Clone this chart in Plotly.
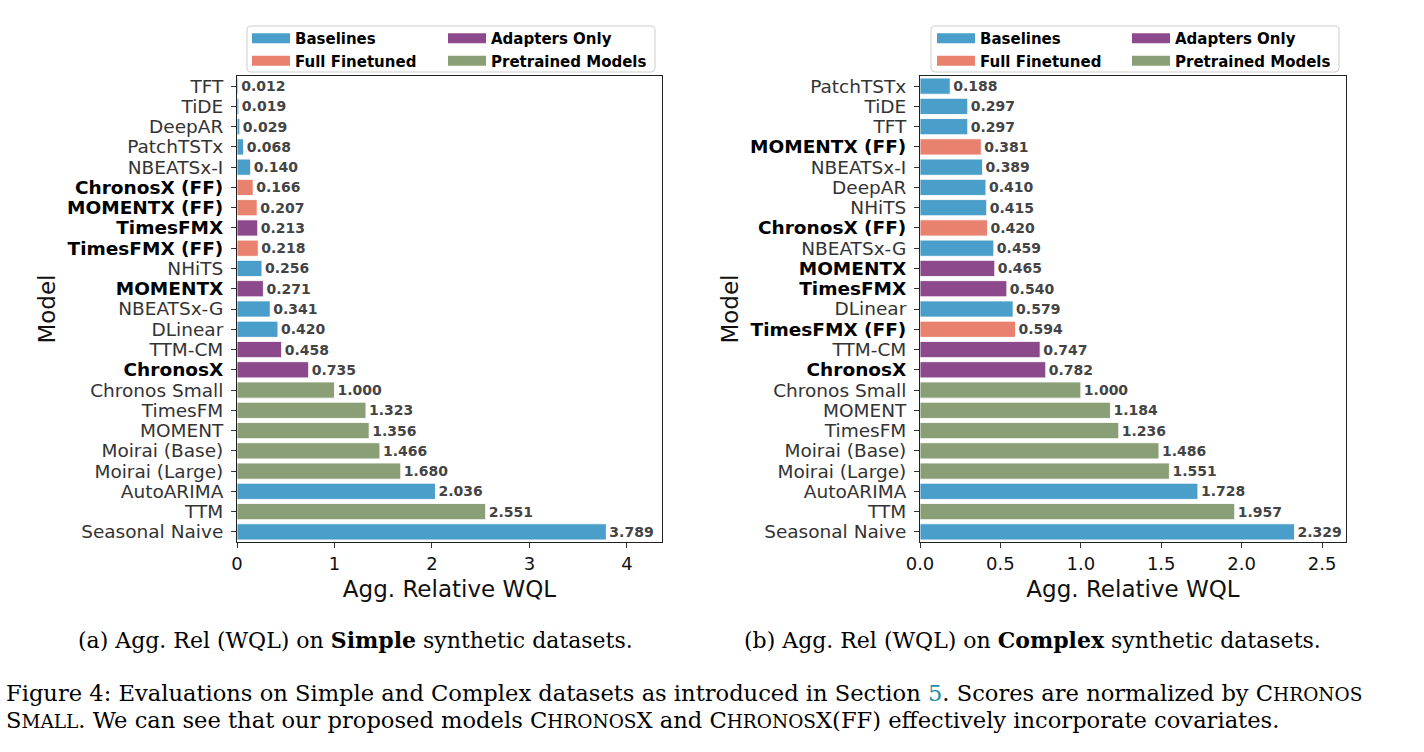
import plotly.graph_objects as go

W, H = 1424, 752

# ---------------- data ----------------
simple_models = ["TFT", "TiDE", "DeepAR", "PatchTSTx", "NBEATSx-I", "ChronosX (FF)",
                 "MOMENTX (FF)", "TimesFMX", "TimesFMX (FF)", "NHiTS", "MOMENTX",
                 "NBEATSx-G", "DLinear", "TTM-CM", "ChronosX", "Chronos Small",
                 "TimesFM", "MOMENT", "Moirai (Base)", "Moirai (Large)", "AutoARIMA",
                 "TTM", "Seasonal Naive"]
simple_values = [0.012, 0.019, 0.029, 0.068, 0.140, 0.166, 0.207, 0.213, 0.218, 0.256,
                 0.271, 0.341, 0.420, 0.458, 0.735, 1.000, 1.323, 1.356, 1.466, 1.680,
                 2.036, 2.551, 3.789]
simple_groups = ["B", "B", "B", "B", "B", "F", "F", "A", "F", "B", "A", "B", "B", "A", "A",
                 "P", "P", "P", "P", "P", "B", "P", "B"]

complex_models = ["PatchTSTx", "TiDE", "TFT", "MOMENTX (FF)", "NBEATSx-I", "DeepAR",
                  "NHiTS", "ChronosX (FF)", "NBEATSx-G", "MOMENTX", "TimesFMX", "DLinear",
                  "TimesFMX (FF)", "TTM-CM", "ChronosX", "Chronos Small", "MOMENT",
                  "TimesFM", "Moirai (Base)", "Moirai (Large)", "AutoARIMA", "TTM",
                  "Seasonal Naive"]
complex_values = [0.188, 0.297, 0.297, 0.381, 0.389, 0.410, 0.415, 0.420, 0.459, 0.465,
                  0.540, 0.579, 0.594, 0.747, 0.782, 1.000, 1.184, 1.236, 1.486, 1.551,
                  1.728, 1.957, 2.329]
complex_groups = ["B", "B", "B", "F", "B", "B", "B", "F", "B", "A", "A", "B", "F", "A", "A",
                  "P", "P", "P", "P", "P", "B", "P", "B"]

bold_models = ["ChronosX (FF)", "MOMENTX (FF)", "TimesFMX", "TimesFMX (FF)", "MOMENTX",
               "ChronosX"]

group_names = {"B": "Baselines", "F": "Full Finetuned", "A": "Adapters Only",
               "P": "Pretrained Models"}
group_colors = {"B": "#4a9fca", "F": "#e8826f", "A": "#8c4a8c", "P": "#8b9f76"}

x_ticks_simple = [0, 1, 2, 3, 4]
x_ticks_complex = [0.0, 0.5, 1.0, 1.5, 2.0, 2.5]

# ---------------- layout geometry (pixels) ----------------
panels = [
    dict(models=simple_models, values=simple_values, groups=simple_groups,
         xa="x", ya="y", x0=237, x1=662, xmax=4.36, ticks=x_ticks_simple, fmt="d",
         leg=("legend", "legend2"), box=(247, 655), cols=(247, 443)),
    dict(models=complex_models, values=complex_values, groups=complex_groups,
         xa="x2", ya="y2", x0=920, x1=1346, xmax=2.649, ticks=x_ticks_complex, fmt=".1f",
         leg=("legend3", "legend4"), box=(931, 1339), cols=(932, 1127)),
]
Y0, Y1 = 76, 542

fig = go.Figure()

def px(x):
    return x / W

def py(y):
    return 1 - y / H

for p in panels:
    # bars, one trace per group
    for g in ["B", "F", "A", "P"]:
        xs = [v for v, gg in zip(p["values"], p["groups"]) if gg == g]
        ys = [m for m, gg in zip(p["models"], p["groups"]) if gg == g]
        fig.add_trace(go.Bar(
            x=xs, y=ys, orientation="h", xaxis=p["xa"], yaxis=p["ya"],
            marker=dict(color=group_colors[g], line=dict(color="rgba(255,255,255,0.85)", width=1)),
            width=0.8, texttemplate="%{x:.3f}", textposition="outside",
            constraintext="none", cliponaxis=False,
            textfont=dict(family="DejaVu Sans", size=14, color="#444444", weight="bold"),
            showlegend=False, hoverinfo="x+y", name=group_names[g]))
    # legend entries (two columns)
    for g in ["B", "F", "A", "P"]:
        leg = p["leg"][0] if g in ("B", "F") else p["leg"][1]
        fig.add_trace(go.Scatter(
            x=[None], y=[None], mode="lines", xaxis=p["xa"], yaxis=p["ya"],
            line=dict(color=group_colors[g], width=10),
            name=group_names[g], legend=leg, showlegend=True))

ax_common = dict(showline=True, mirror=True, linecolor="#222222", linewidth=1,
                 ticks="outside", ticklen=5, tickcolor="#333333", showgrid=False,
                 zeroline=False, automargin=False)

for i, p in enumerate(panels):
    sfx = "" if i == 0 else str(i + 1)
    ticktext = [("<span style='color:#000000'><b>%s</b></span>" % m) if m in bold_models else m
                for m in p["models"]]
    fig.layout["xaxis" + sfx] = dict(
        ax_common, domain=[px(p["x0"]), px(p["x1"])], range=[0, p["xmax"]],
        anchor="y" + sfx, tickvals=p["ticks"], tickformat=p["fmt"],
        tickfont=dict(family="DejaVu Sans", size=18, color="#111111"),
        title=dict(text="Agg. Relative WQL", standoff=8,
                   font=dict(family="DejaVu Sans", size=23, color="#111111")))
    fig.layout["yaxis" + sfx] = dict(
        ax_common, domain=[py(Y1), py(Y0)], anchor="x" + sfx,
        type="category", categoryorder="array", categoryarray=p["models"],
        range=[len(p["models"]) - 0.5, -0.5],
        tickvals=p["models"], ticktext=ticktext, ticklabelstandoff=4,
        tickfont=dict(family="DejaVu Sans", size=18.5, color="#333333"),
        title=dict(text="Model", standoff=5,
                   font=dict(family="DejaVu Sans", size=23, color="#111111")))
    # legends
    for j, leg in enumerate(p["leg"]):
        fig.layout[leg] = dict(
            x=px(p["cols"][j]), y=py(22), xanchor="left", yanchor="top",
            xref="paper", yref="paper", orientation="v", bgcolor="rgba(0,0,0,0)",
            borderwidth=0, tracegroupgap=0, itemwidth=38,
            font=dict(family="DejaVu Sans", size=15, color="#000000", weight="bold"))
    # legend frame (rounded rectangle)
    bx0, bx1 = p["box"]
    by0, by1 = 26, 72
    r = 4
    path = ("M %f,%f L %f,%f Q %f,%f %f,%f L %f,%f Q %f,%f %f,%f L %f,%f Q %f,%f %f,%f "
            "L %f,%f Q %f,%f %f,%f Z") % (
        px(bx0 + r), py(by0), px(bx1 - r), py(by0), px(bx1), py(by0), px(bx1), py(by0 + r),
        px(bx1), py(by1 - r), px(bx1), py(by1), px(bx1 - r), py(by1),
        px(bx0 + r), py(by1), px(bx0), py(by1), px(bx0), py(by1 - r),
        px(bx0), py(by0 + r), px(bx0), py(by0), px(bx0 + r), py(by0))
    fig.add_shape(type="path", path=path, xref="paper", yref="paper",
                  line=dict(color="#cccccc", width=1), fillcolor="rgba(255,255,255,0.8)",
                  layer="below")

serif = "DejaVu Serif"
sc = 0.82  # small-caps scale

def small_caps(first, rest, size):
    return "%s<span style='font-size:%.1fpx'>%s</span>" % (first, size * sc, rest)

cap_size = 22
annotations = [
    dict(text="(a) Agg. Rel (WQL) on <b>Simple</b> synthetic datasets.", x=px(355), y=py(640)),
    dict(text="(b) Agg. Rel (WQL) on <b>Complex</b> synthetic datasets.", x=px(1032), y=py(640)),
]
for a in annotations:
    fig.add_annotation(text=a["text"], x=a["x"], y=a["y"], xref="paper", yref="paper",
                       xanchor="center", yanchor="middle", showarrow=False,
                       font=dict(family=serif, size=cap_size, color="#000000"))

fig_size = 22.6
line1 = ("Figure 4: Evaluations on Simple and Complex datasets as introduced in Section "
         "<span style='color:#1f8fa3'>5</span>. Scores are normalized by "
         + small_caps("C", "HRONOS", fig_size))
line2 = (small_caps("S", "MALL", fig_size) + ". We can see that our proposed models "
         + small_caps("C", "HRONOS", fig_size) + "X and "
         + small_caps("C", "HRONOS", fig_size) + "X(FF) effectively incorporate covariates.")
for txt, yy in [(line1, 693), (line2, 720)]:
    fig.add_annotation(text=txt, x=px(4), y=py(yy), xref="paper", yref="paper",
                       xanchor="left", yanchor="middle", showarrow=False, align="left",
                       font=dict(family=serif, size=fig_size, color="#000000"))

fig.update_layout(width=W, height=H, margin=dict(l=0, r=0, t=0, b=0, autoexpand=False),
                  paper_bgcolor="white", plot_bgcolor="white", barmode="overlay",
                  font=dict(family="DejaVu Sans"))

fig.write_html("out.html")
